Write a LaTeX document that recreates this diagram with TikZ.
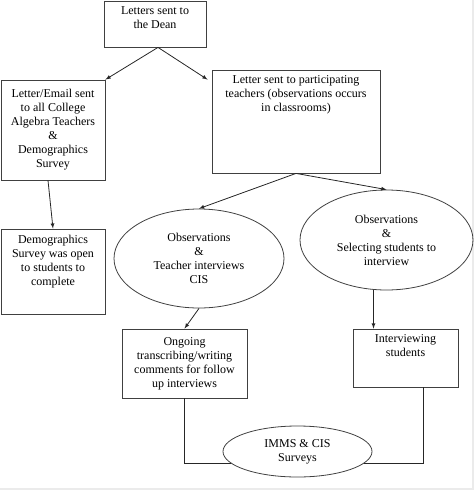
\documentclass[tikz,border=0pt]{standalone}
\usepackage{fontspec}
\setmainfont{Liberation Serif}
\usetikzlibrary{shapes.geometric}
\newcommand{\toplines}[3]{\parbox[c][#2][t]{#1}{\centering\vspace*{6pt}#3\par}}

\begin{document}
\begin{tikzpicture}[x=1pt,y=-1pt,
  every node/.style={font=\fontsize{12}{14}\selectfont},
  box/.style={draw=black!75, line width=0.8pt, inner sep=0pt, align=center},
  oval/.style={draw=black!75, line width=0.8pt, ellipse, inner sep=0pt, align=center}]
	\tikzset{>=latex}
  \useasboundingbox (0,0) rectangle (474,490);
  \draw[black!8, line width=1.5pt] (473,0) -- (473,489) -- (0,489);

  \node[box] (dean) at (155,24) {\toplines{102pt}{46pt}{Letters sent to\\the Dean}};
  \node[box,minimum width=104pt,minimum height=100pt] (left) at (53,130) {Letter/Email sent\\to all College\\Algebra Teachers\\\&\\Demographics\\Survey};
  \node[box] (part) at (296,121.5) {\toplines{168pt}{103pt}{Letter sent to participating\\teachers (observations occurs\\in classrooms)}};

  \node[box] (demo) at (53,271.5) {\toplines{104pt}{85pt}{Demographics\\Survey was open\\to students to\\complete}};
  \node[oval,minimum width=170pt,minimum height=99pt] (teach) at (199,258.5) {Observations\\\&\\Teacher interviews\\CIS};
  \node[oval,minimum width=173pt,minimum height=100pt] (sel) at (386.5,240) {Observations\\\&\\Selecting students to\\interview};

  \node[box,minimum width=125pt,minimum height=69pt] (ongoing) at (184.5,363.5) {Ongoing\\transcribing/writing\\comments for follow\\up interviews};
  \node[box] (intv) at (405.5,358) {\toplines{105pt}{58pt}{Interviewing\\students}};
  \node[oval,minimum width=149pt,minimum height=51pt] (imms) at (297.5,451.5) {IMMS \& CIS\\Surveys};

  \draw[->,line width=0.8pt,black!85] ([xshift=3pt]dean.south) -- (left.north east);
  \draw[->,line width=0.8pt,black!85] ([xshift=3pt]dean.south) -- ([xshift=-4pt,yshift=-10pt]part.north west);
  \draw[->,line width=0.8pt,black!85] ([xshift=-5pt]left.south) -- (demo.north);
  \draw[->,line width=0.8pt,black!85] (part.south) -- (teach.north);
  \draw[->,line width=0.8pt,black!85] (part.south) -- (sel.north);
  \draw[->,line width=0.8pt,black!85] (teach.south) -- (ongoing.north);
  \draw[->,line width=0.8pt,black!85] ([xshift=-13pt]sel.south) -- ([xshift=-13pt]sel.south |- intv.north);
  \draw[line width=0.8pt,black!85] (ongoing.south) |- (imms.190);
  \draw[line width=0.8pt,black!85] ([xshift=18pt]intv.south) |- (imms.350);

\end{tikzpicture}
\end{document}
